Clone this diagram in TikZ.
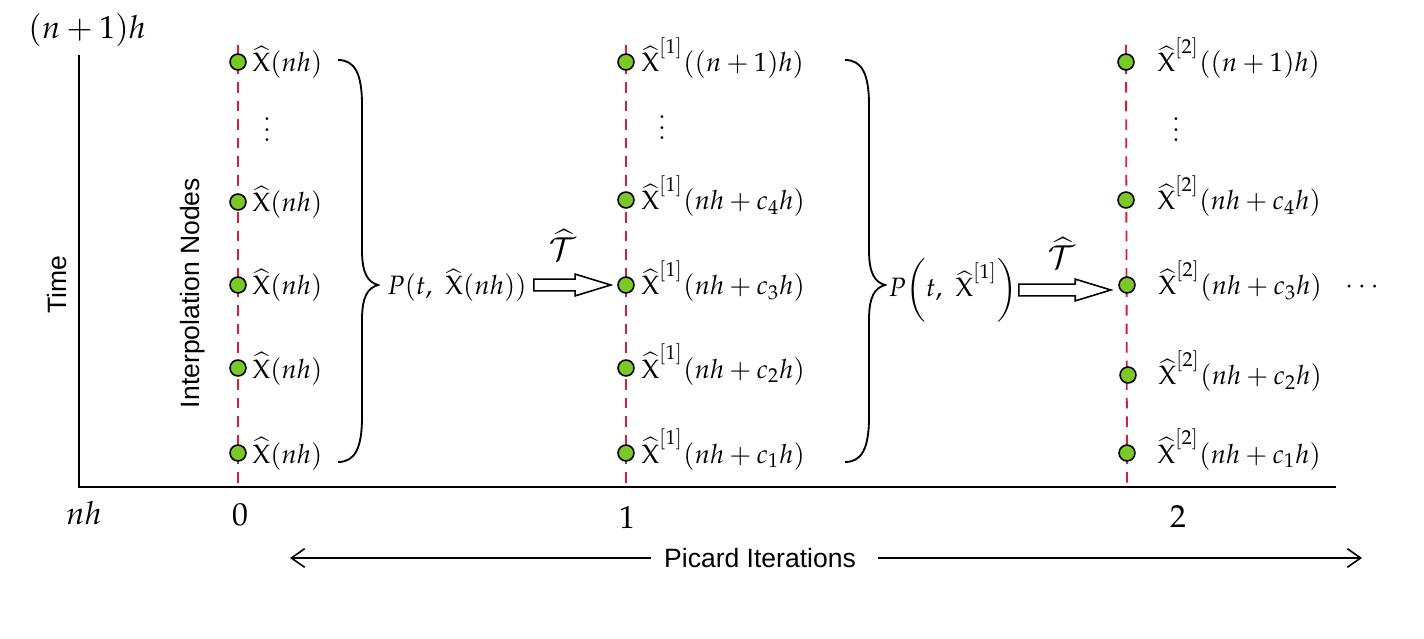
\documentclass[tikz,border=0pt]{standalone}
\usepackage{mathpazo}
\usepackage[no-math]{fontspec}
\setsansfont{Liberation Sans}
\usetikzlibrary{arrows.meta,shapes.arrows}
\definecolor{dotgreen}{RGB}{122,201,39}
\definecolor{guidered}{RGB}{214,30,55}
\tikzset{
	axis/.style={line width=0.8pt},
	guide/.style={draw=guidered, line width=0.7pt, dash pattern=on 4pt off 3pt},
	gdot/.style={circle, draw=black, line width=0.6pt, fill=dotgreen, minimum size=6pt, inner sep=0pt},
	lbl/.style={anchor=base west, inner sep=0pt},
	bigmath/.style={font=\large},
	sans/.style={font=\sffamily},
	hollow/.style={single arrow, draw, line width=0.6pt, inner sep=1.9pt, single arrow head extend=1.9pt, single arrow tip angle=34, anchor=tail},
	iter/.style={-{Straight Barb[length=5pt,width=7pt]}, line width=0.6pt},
	braceline/.style={line width=0.7pt},
}
\def\curlybrace(#1){\draw[braceline, shift={(#1)}] (0,0) .. controls (17,0) and (24,14) .. (24,45) -- (24,190) .. controls (24,214) and (30,222) .. (40,225) .. controls (30,228) and (24,236) .. (24,260) -- (24,357) .. controls (24,388) and (17,402) .. (0,402);}
\newcommand{\xhat}{\widehat{\mathrm{X}}}
\newcommand{\xit}[1]{\widehat{\mathrm{X}}^{\raisebox{3.2pt}{$\scriptstyle[#1]$}}}

\begin{document}
\begin{tikzpicture}[x=0.377pt,y=-0.377pt]
			\useasboundingbox (0,0) rectangle (1424,639);
			%%%%% AXES %%%%%
			
			\coordinate (ytop) at (79,55);
			\coordinate (origin) at (79,487);
			\coordinate (xend) at (1336,487);
			\draw[axis] (ytop) -- (origin) -- (xend);
			
			\node[bigmath] (tupper) at (87,30) {$(n+1)h$};
			\node[bigmath] (tlower) at (84,513) {$nh$};
			\node[sans, rotate=90] (timelbl) at (57,285) {Time};
			\node[sans, rotate=90] (interp) at (193,293) {Interpolation Nodes};
			
			\node[bigmath] (it0) at (240,515) {$0$};
			\node[bigmath] (it1) at (627,517) {$1$};
			\node[bigmath] (it2) at (1178,517) {$2$};
			
			%%%%% GUIDES %%%%%
			
			\coordinate (g0top) at (238,45);
			\coordinate (g0bot) at (238,487);
			\coordinate (g1top) at (626,45);
			\coordinate (g1bot) at (626,487);
			\coordinate (g2top) at (1126,45);
			\coordinate (g2bot) at (1127,487);
			\draw[guide] (g0top) -- (g0bot);
			\draw[guide] (g1top) -- (g1bot);
			\draw[guide] (g2top) -- (g2bot);
			
			%%%%% COLUMN 0 %%%%%
			
			\node[gdot] (d0a) at (238,62) {};
			\node[gdot] (d0b) at (238,202) {};
			\node[gdot] (d0c) at (238,285) {};
			\node[gdot] (d0d) at (238,368) {};
			\node[gdot] (d0e) at (238,453) {};
			\node[lbl] (l0a) at (252,72) {$\xhat(nh)$};
			\node[lbl] (l0b) at (252,212) {$\xhat(nh)$};
			\node[lbl] (l0c) at (252,295) {$\xhat(nh)$};
			\node[lbl] (l0d) at (252,378) {$\xhat(nh)$};
			\node[lbl] (l0e) at (252,463) {$\xhat(nh)$};
			\node (v0) at (267,122) {$\vdots$};
			
			\curlybrace(338,60);
			\node (p1) at (457,285) {$P(t,\ \xhat(nh))$};
			\node[hollow, minimum height=29pt] (ar1) at (533,285) {};
			\node[bigmath] (tau1) at (563,245) {$\widehat{\mathcal{T}}$};
			
			%%%%% COLUMN 1 %%%%%
			
			\node[gdot] (d1a) at (626,62) {};
			\node[gdot] (d1b) at (626,200) {};
			\node[gdot] (d1c) at (626,285) {};
			\node[gdot] (d1d) at (626,368) {};
			\node[gdot] (d1e) at (626,453) {};
			\node[lbl] (l1a) at (641,72) {$\xit{1}((n+1)h)$};
			\node[lbl] (l1b) at (641,210) {$\xit{1}(nh+c_4h)$};
			\node[lbl] (l1c) at (641,295) {$\xit{1}(nh+c_3h)$};
			\node[lbl] (l1d) at (641,378) {$\xit{1}(nh+c_2h)$};
			\node[lbl] (l1e) at (641,463) {$\xit{1}(nh+c_1h)$};
			\node (v1) at (662,120) {$\vdots$};
			
			\curlybrace(845,60);
			\node (p2) at (953,290) {$P\mathopen{}\left(t,\ \xit{1}\right)$};
			\node[hollow, minimum height=34.7pt] (ar2) at (1018,290) {};
			\node[bigmath] (tau2) at (1062,253) {$\widehat{\mathcal{T}}$};
			
			%%%%% COLUMN 2 %%%%%
			
			\node[gdot] (d2a) at (1126,62) {};
			\node[gdot] (d2b) at (1126,200) {};
			\node[gdot] (d2c) at (1127,285) {};
			\node[gdot] (d2d) at (1128,375) {};
			\node[gdot] (d2e) at (1127,453) {};
			\node[lbl] (l2a) at (1157,72) {$\xit{2}((n+1)h)$};
			\node[lbl] (l2b) at (1157,210) {$\xit{2}(nh+c_4h)$};
			\node[lbl] (l2c) at (1158,295) {$\xit{2}(nh+c_3h)$};
			\node[lbl] (l2d) at (1158,385) {$\xit{2}(nh+c_2h)$};
			\node[lbl] (l2e) at (1157,463) {$\xit{2}(nh+c_1h)$};
			\node (v2) at (1176,122) {$\vdots$};
			\node (more) at (1362,287) {$\cdots$};
			
			%%%%% PICARD %%%%%
			
			\node[sans] (picard) at (760,558) {Picard Iterations};
			\coordinate (pleft) at (290,558);
			\coordinate (pright) at (1362,558);
			\draw[iter] ([xshift=-1.5pt]picard.west) -- (pleft);
			\draw[iter] ([xshift=5pt]picard.east) -- (pright);
			
		\end{tikzpicture}
\end{document}
